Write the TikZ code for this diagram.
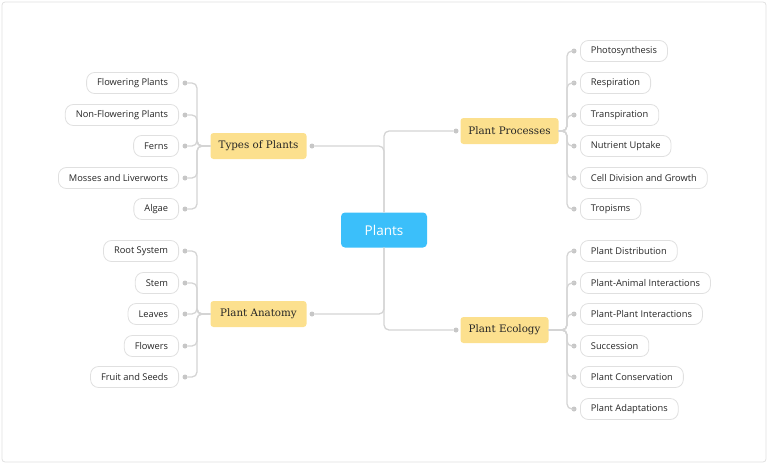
\documentclass[tikz,border=0pt]{standalone}
\usepackage{fontspec}
\setmainfont{Open Sans}
\newfontfamily\brfont{DejaVu Serif}
\begin{document}
\begin{tikzpicture}[x=1pt,y=-1pt,
  conn/.style={draw=black!17,line width=1.3pt,rounded corners=5pt},
  dot/.style={circle,fill=black!22,inner sep=0pt,minimum size=5pt},
  leaf/.style={draw=black!12,line width=0.8pt,rounded corners=8pt,fill=white,minimum height=21pt,inner xsep=10.5pt,font=\fontsize{9.3}{11}\selectfont,text=black!85},
  branch/.style={fill=branchc,rounded corners=3pt,minimum height=26pt,inner xsep=2pt,font=\brfont\fontsize{10.3}{12}\selectfont,text=black!85},
  root/.style={fill=rootc,rounded corners=4pt,minimum width=86pt,minimum height=35pt,font=\fontsize{13.5}{15}\selectfont,text=white}]
\definecolor{branchc}{HTML}{FCE08E}
\definecolor{rootc}{HTML}{3BBFFA}
\useasboundingbox (0,0) rectangle (768,464);
\draw[black!12,line width=0.8pt,rounded corners=3pt] (2,2) rectangle (766,462);
\node[root] (root) at (384,230) {Plants};
\node[branch,minimum width=96pt] (tp) at (258.5,146) {Types of Plants};
\node[branch,minimum width=96pt] (pa) at (258.5,314) {Plant Anatomy};
\node[branch,minimum width=98pt] (pp) at (509.5,131) {Plant Processes};
\node[branch,minimum width=88pt] (pe) at (504.5,330) {Plant Ecology};
\node[dot] (tpd) at (312,146) {};
\node[dot] (pad) at (312,314) {};
\node[dot] (ppd) at (456,131) {};
\node[dot] (ped) at (456,330) {};
\draw[conn] (tpd) -- (384,146) -- (root.north);
\draw[conn] (ppd) -- (384,131) -- (root.north);
\draw[conn] (pad) -- (384,314) -- (root.south);
\draw[conn] (ped) -- (384,330) -- (root.south);
\foreach \n/\t/\y/\br in {l1/Flowering Plants/83/tp, l2/Non-Flowering Plants/115/tp, l3/Ferns/146/tp, l4/Mosses and Liverworts/178/tp, l5/Algae/209/tp,
  a1/Root System/251/pa, a2/Stem/283/pa, a3/Leaves/314/pa, a4/Flowers/346/pa, a5/Fruit and Seeds/377/pa}{
  \node[leaf,anchor=east] (\n) at (179,\y) {\t};
  \node[dot] (\n d) at (185,\y) {};
  \draw[conn] (\br.west) -- (197,\y|-\br.west) -- (197,\y) -- (\n d);
}
\foreach \n/\t/\y/\br in {p1/Photosynthesis/51/pp, p2/Respiration/83/pp, p3/Transpiration/115/pp, p4/Nutrient Uptake/146/pp, p5/Cell Division and Growth/178/pp, p6/Tropisms/209/pp,
  e1/Plant Distribution/251/pe, e2/Plant-Animal Interactions/283/pe, e3/Plant-Plant Interactions/314/pe, e4/Succession/346/pe, e5/Plant Conservation/377/pe, e6/Plant Adaptations/409/pe}{
  \node[leaf,anchor=west] (\n) at (580,\y) {\t};
  \node[dot] (\n d) at (574,\y) {};
  \draw[conn] (\br.east) -- (567,\y|-\br.east) -- (567,\y) -- (\n d);
}
\end{tikzpicture}
\end{document}
